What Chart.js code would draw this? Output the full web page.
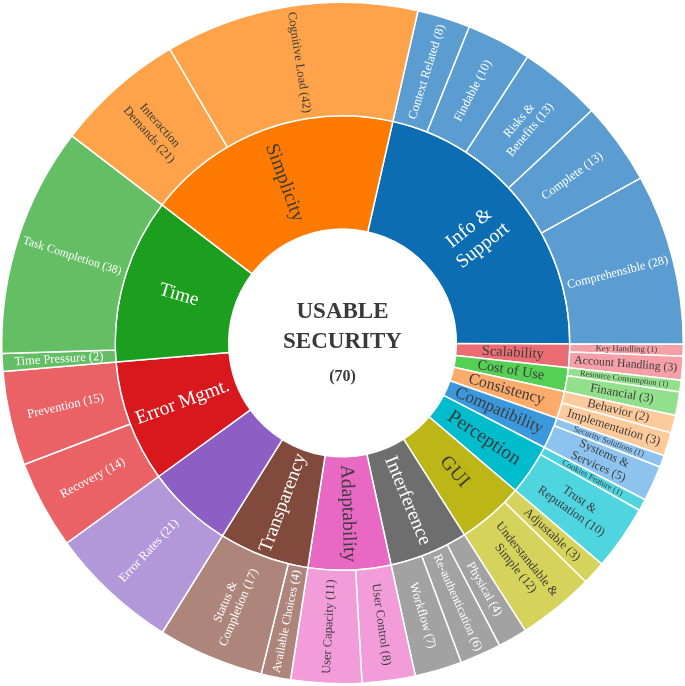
<!DOCTYPE html>
<html>
<head>
<meta charset="utf-8">
<script src="https://cdn.jsdelivr.net/npm/chart.js@4"></script>
<style>
  html, body { margin: 0; padding: 0; background: #fff; }
</style>
</head>
<body>
<canvas id="sunburst" width="685" height="686"></canvas>
<script>
// inner ring, clockwise from the top right
const categories = ['Info &\nSupport', 'Scalability', 'Cost of Use', 'Consistency', 'Compatibility',
  'Perception', 'GUI', 'Interference', 'Adaptability', 'Transparency', '', 'Error Mgmt.', 'Time', 'Simplicity'];

// outer ring, grouped by category
const subcategories = [
  ['Context Related', 'Findable', 'Risks &\nBenefits', 'Complete', 'Comprehensible'],
  ['Key Handling', 'Account Handling'],
  ['Resource Consumption', 'Financial'],
  ['Behavior', 'Implementation'],
  ['Security Solutions', 'Systems &\nServices'],
  ['Cookies Feature', 'Trust &\nReputation'],
  ['Adjustable', 'Understandable &\nSimple'],
  ['Physical', 'Re-authentication', 'Workflow'],
  ['User Control', 'User Capacity'],
  ['Available Choices', 'Status &\nCompletion'],
  ['Error Rates'],
  ['Recovery', 'Prevention'],
  ['Time Pressure', 'Task Completion'],
  ['Interaction\nDemands', 'Cognitive Load']
];

const subcounts = [
  [8, 10, 13, 13, 28],
  [1, 3],
  [1, 3],
  [2, 3],
  [1, 5],
  [1, 10],
  [3, 12],
  [4, 6, 7],
  [8, 11],
  [4, 17],
  [21],
  [14, 15],
  [2, 38],
  [21, 42]
];

const rootLabel = ['USABLE', 'SECURITY'];
const rootCount = 70;

// colours: [inner, outer], text: [inner, outer]
const innerColors = ['#0d6db2', '#eb6d73', '#55d055', '#fdab6b', '#3c98dd', '#00bccc', '#bdb617',
  '#6e6e6e', '#e868c3', '#814a3c', '#8d5ec4', '#d8181c', '#1c9e1f', '#fe7a00'];
const outerColors = ['#5b9dd0', '#f5a0a6', '#93e08c', '#fdca9c', '#8cc4ef', '#4fd5df', '#d6d35c',
  '#a2a2a2', '#f29dd9', '#ad857b', '#b398d9', '#ea6266', '#63be64', '#fea349'];
const dark = '#3c3c3c', light = '#ffffff';
const innerText = [light, dark, dark, dark, dark, dark, dark, light, dark, light, light, light, light, dark];
const outerText = [light, dark, dark, dark, dark, dark, dark, light, dark, light, light, light, light, dark];

const FONT = '"Liberation Serif", "Times New Roman", serif';

// the figure sizes every leaf as count + 1 so the single-paper groups stay visible
const leafLabels = [], leafSizes = [], leafColors = [], leafTextColors = [];
const catSizes = [];
subcategories.forEach((names, i) => {
  let total = 0;
  names.forEach((name, k) => {
    const c = subcounts[i][k];
    leafLabels.push(name + ' (' + c + ')');
    leafSizes.push(c + 1);
    leafColors.push(outerColors[i]);
    leafTextColors.push(outerText[i]);
    total += c + 1;
  });
  catSizes.push(total);
});

function fitFont(ctx, lines, maxSize, radLen, rMid, halfAngle) {
  const sinA = Math.sin(Math.min(halfAngle, Math.PI / 2));
  for (let s = maxSize; s > 4; s -= 0.25) {
    ctx.font = s + 'px ' + FONT;
    const w = Math.max(...lines.map(l => ctx.measureText(l).width));
    const h = s * (1 + (lines.length - 1) * 1.15);
    const chord = 2 * (rMid - w / 2) * sinA;
    if (w <= radLen && h <= chord) return s;
  }
  return 4;
}

const sliceLabels = {
  id: 'sliceLabels',
  afterDatasetsDraw(chart) {
    const ctx = chart.ctx;
    chart.data.datasets.forEach((ds, i) => {
      const meta = chart.getDatasetMeta(i);
      meta.data.forEach((arc, j) => {
        const text = ds.labelText[j];
        if (!text) return;
        const p = arc.getProps(['x', 'y', 'startAngle', 'endAngle', 'innerRadius', 'outerRadius'], true);
        const a = (p.startAngle + p.endAngle) / 2;
        const rMid = (p.innerRadius + p.outerRadius) / 2;
        const lines = text.split('\n');
        const s = fitFont(ctx, lines, ds.maxFont, p.outerRadius - p.innerRadius - 9, rMid,
          (p.endAngle - p.startAngle) / 2);
        ctx.save();
        ctx.translate(p.x + rMid * Math.cos(a), p.y + rMid * Math.sin(a));
        ctx.rotate(Math.cos(a) > 1e-6 ? a : a + Math.PI);
        ctx.font = s + 'px ' + FONT;
        ctx.fillStyle = ds.textColor[j];
        ctx.textAlign = 'center';
        ctx.textBaseline = 'middle';
        lines.forEach((l, k) => ctx.fillText(l, 0, (k - (lines.length - 1) / 2) * s * 1.15));
        ctx.restore();
      });
    });
  }
};

const centerText = {
  id: 'centerText',
  afterDatasetsDraw(chart) {
    const ctx = chart.ctx;
    const arc = chart.getDatasetMeta(0).data[0];
    const cx = arc.x, cy = arc.y;
    ctx.save();
    ctx.fillStyle = '#3a3a3a';
    ctx.textAlign = 'center';
    ctx.textBaseline = 'middle';
    ctx.font = 'bold 23px ' + FONT;
    ctx.fillText(rootLabel[0], cx, cy - 31);
    ctx.fillText(rootLabel[1], cx, cy - 1);
    ctx.font = 'bold 16px ' + FONT;
    ctx.fillText('(' + rootCount + ')', cx, cy + 34);
    ctx.restore();
  }
};

const ctx = document.getElementById('sunburst').getContext('2d');
const sunburst = new Chart(ctx, {
  type: 'doughnut',
  data: {
    labels: leafLabels,
    datasets: [{
      data: leafSizes,
      backgroundColor: leafColors,
      borderColor: '#ffffff',
      borderWidth: 1.5,
      labelText: leafLabels,
      textColor: leafTextColors,
      maxFont: 12.5
    }, {
      data: catSizes,
      backgroundColor: innerColors,
      borderColor: '#ffffff',
      borderWidth: 1.5,
      labelText: categories,
      textColor: innerText,
      maxFont: 19.5
    }]
  },
  options: {
    responsive: false,
    animation: false,
    rotation: 12.8,
    cutout: '33.4%',
    layout: { padding: 1 },
    plugins: {
      legend: { display: false },
      tooltip: { enabled: false }
    }
  },
  plugins: [sliceLabels, centerText]
});
</script>
</body>
</html>
